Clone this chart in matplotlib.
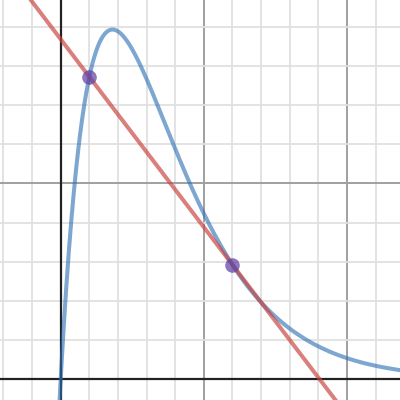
import numpy as np
import matplotlib
matplotlib.use("Agg")
import matplotlib.pyplot as plt

# Curva f(x) = A * x * e^(-b x)
A = 13.43
b = 0.553

# Puntos por donde pasa la recta secante
x_puntos = [1, 6]

# Ventana visible (unidades de la cuadricula menor)
x_min, x_max = -2.12, 11.85
y_min, y_max = -0.537, 9.69

x_menor = np.arange(-2, 12, 1)
x_mayor = [0, 5, 10]
y_menor = np.arange(0, 10, 1)
y_mayor = [0, 5]


def f(x):
    return A * x * np.exp(-b * x)


x = np.linspace(-0.1, x_max, 1000)
y = f(x)

xp = np.array(x_puntos, dtype=float)
yp = f(xp)
pendiente = (yp[1] - yp[0]) / (xp[1] - xp[0])
x_recta = np.array([x_min, x_max])
y_recta = yp[0] + pendiente * (x_recta - xp[0])

fig = plt.figure(figsize=(4, 4), dpi=100)
ax = fig.add_axes([0, 0, 1, 1])

# Cuadricula
ax.set_xticks(x_mayor)
ax.set_xticks(x_menor, minor=True)
ax.set_yticks(y_mayor)
ax.set_yticks(y_menor, minor=True)
ax.grid(which="minor", color="#e0e0e0", linewidth=1.3)
ax.grid(which="major", color="#a0a0a0", linewidth=1.4)
ax.tick_params(which="both", length=0, labelbottom=False, labelleft=False)
for s in ax.spines.values():
    s.set_visible(False)
ax.set_axisbelow(True)

ax.axhline(0, color="#222222", linewidth=1.6, zorder=1)
ax.axvline(0, color="#222222", linewidth=1.6, zorder=1)

# Curva y recta
ax.plot(x, y, color="#2d70b3", alpha=0.62, linewidth=2.9, zorder=2)
ax.plot(x_recta, y_recta, color="#c74440", alpha=0.68, linewidth=2.9, zorder=3)
ax.plot(xp, yp, "o", color="#6042a6", alpha=0.72, markersize=10.5,
        markeredgewidth=0, zorder=4)

ax.set_xlim(x_min, x_max)
ax.set_ylim(y_min, y_max)

fig.savefig("out.png", dpi=100)
